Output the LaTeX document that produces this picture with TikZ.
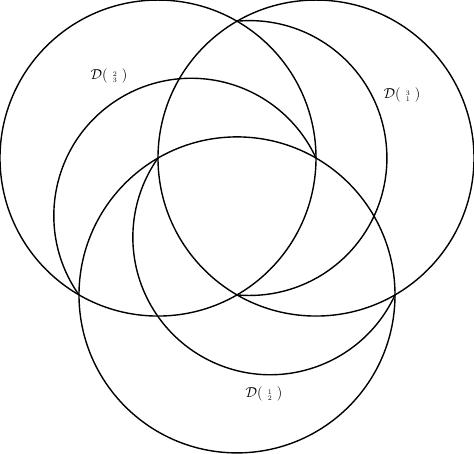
\documentclass[tikz,border=0pt]{standalone}
\usepackage{amsmath}
\begin{document}
\begin{tikzpicture}[x=1pt,y=1pt,
  ring/.style={draw=black,line width=1.4pt},
  lbl/.style={font=\Large,inner sep=0pt}]
\useasboundingbox (0,0) rectangle (474,453);
% triangle points
\coordinate (P1) at (237,431.8);
\coordinate (P4) at (79,158.1);
\coordinate (P6) at (395,158.1);
\coordinate (P2) at (158,294.95);
\coordinate (P3) at (316,294.95);
\coordinate (P5) at (237,158.1);
% big circles centred at the side midpoints
\draw[ring] (P2) circle[radius=158];
\draw[ring] (P3) circle[radius=158];
\draw[ring] (P5) circle[radius=158];
% arcs from each corner to the opposite midpoint
\draw[ring] (P1) arc[start angle=95.22,end angle=-95.22,radius=137.42];
\draw[ring,rotate around={120:(237,249.33)}] (237,431.8) arc[start angle=95.22,end angle=-95.22,radius=137.42];
\draw[ring,rotate around={240:(237,249.33)}] (237,431.8) arc[start angle=95.22,end angle=-95.22,radius=137.42];
% labels
\node[lbl] (l1) at (109,377) {$\mathcal{D}(\;\genfrac{}{}{0pt}{3}{2}{3}\;)$};
\node[lbl] (l2) at (402,358) {$\mathcal{D}(\;\genfrac{}{}{0pt}{3}{3}{1}\;)$};
\node[lbl] (l3) at (264,59) {$\mathcal{D}(\;\genfrac{}{}{0pt}{3}{1}{2}\;)$};
\end{tikzpicture}
\end{document}
